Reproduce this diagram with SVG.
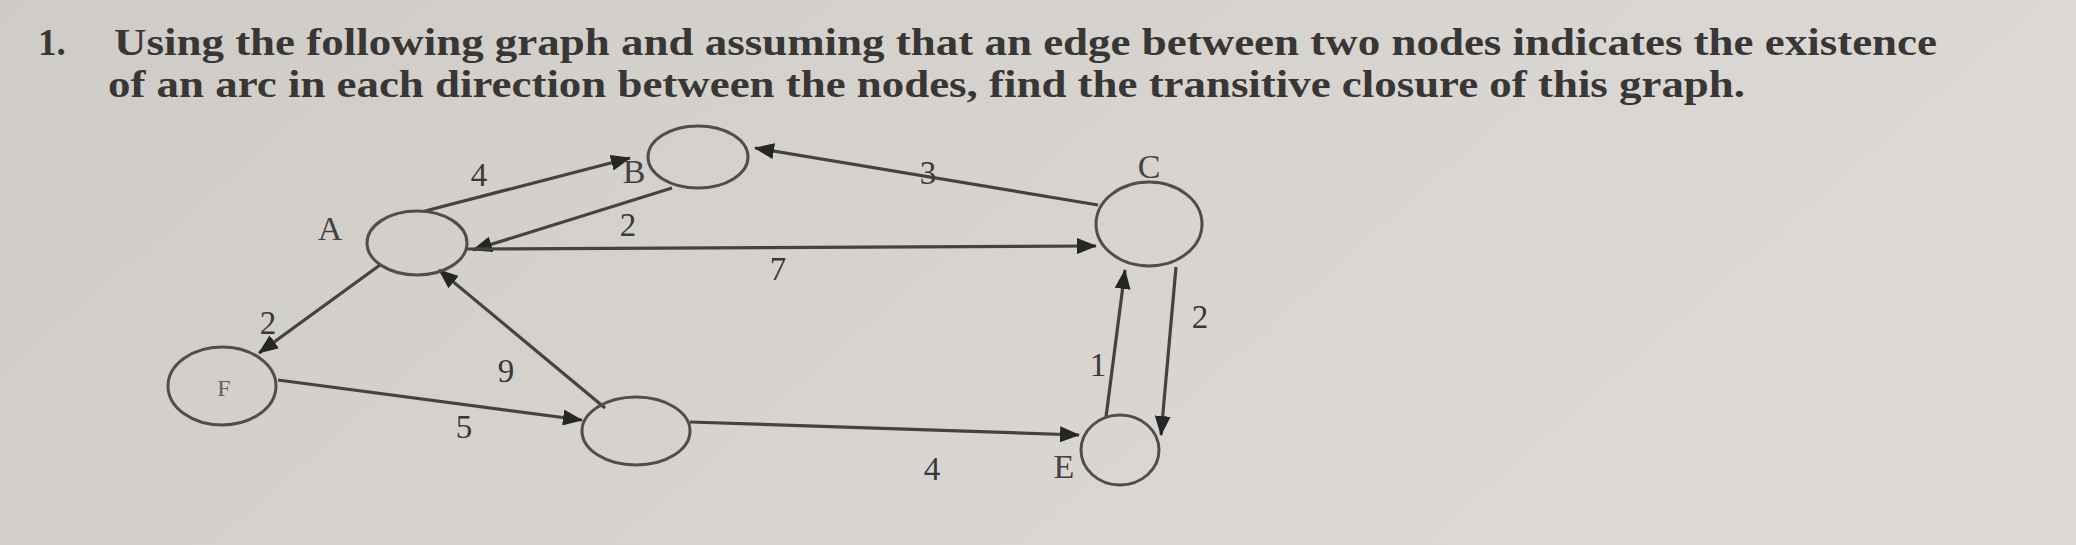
<svg xmlns="http://www.w3.org/2000/svg" width="2076" height="545" viewBox="0 0 2076 545">
<defs>
<linearGradient id="bg" x1="0" y1="0" x2="1" y2="0.3">
<stop offset="0" stop-color="#cfcbc6"/>
<stop offset="0.5" stop-color="#d6d3cf"/>
<stop offset="1" stop-color="#dcd9d6"/>
</linearGradient>
<marker id="ah" markerUnits="userSpaceOnUse" markerWidth="22" markerHeight="16" refX="19" refY="8" orient="auto">
<path d="M0,0 L20,8 L0,16 z" fill="#262626"/>
</marker>
<style>
.title{font-family:"Liberation Serif",serif;font-weight:bold;font-size:37px;fill:#383736}
.node{fill:none;stroke:#504e4c;stroke-width:3}
.edge{stroke:#444341;stroke-width:3.2;fill:none;marker-end:url(#ah)}
.lbl{font-family:"Liberation Serif",serif;font-size:33px;fill:#3a3938}
.nl{font-family:"Liberation Serif",serif;font-size:34px;fill:#444342}
</style>
</defs>
<rect x="0" y="0" width="2076" height="545" fill="url(#bg)"/>
<g id="question">
<text class="title" x="38" y="55">1.</text>
<text class="title" x="114" y="55" textLength="1823" lengthAdjust="spacingAndGlyphs">Using the following graph and assuming that an edge between two nodes indicates the existence</text>
<text class="title" x="108" y="97" textLength="1637" lengthAdjust="spacingAndGlyphs">of an arc in each direction between the nodes, find the transitive closure of this graph.</text>
</g>
<g id="connectors">
<line class="edge" x1="425" y1="211" x2="630" y2="158"/>
<line class="edge" x1="672" y1="188" x2="473" y2="250"/>
<line class="edge" x1="1098" y1="205" x2="755" y2="148"/>
<line class="edge" x1="466" y1="249" x2="1096" y2="246"/>
<line class="edge" x1="605" y1="408" x2="439" y2="270"/>
<line class="edge" x1="380" y1="265" x2="259" y2="353"/>
<line class="edge" x1="278" y1="380" x2="582" y2="420"/>
<line class="edge" x1="690" y1="422" x2="1079" y2="435"/>
<line class="edge" x1="1106" y1="417" x2="1125" y2="270"/>
<line class="edge" x1="1176" y1="267" x2="1161" y2="435"/>
<text class="lbl" x="479" y="186" text-anchor="middle">4</text>
<text class="lbl" x="628" y="236" text-anchor="middle">2</text>
<text class="lbl" x="928" y="184" text-anchor="middle">3</text>
<text class="lbl" x="778" y="280" text-anchor="middle">7</text>
<text class="lbl" x="506" y="382" text-anchor="middle">9</text>
<text class="lbl" x="268" y="334" text-anchor="middle">2</text>
<text class="lbl" x="464" y="438" text-anchor="middle">5</text>
<text class="lbl" x="932" y="480" text-anchor="middle">4</text>
<text class="lbl" x="1098" y="376" text-anchor="middle">1</text>
<text class="lbl" x="1200" y="328" text-anchor="middle">2</text>
</g>
<g id="node-A">
<ellipse class="node" cx="417" cy="243" rx="50" ry="32"/>
<text class="nl" x="330" y="240" text-anchor="middle">A</text>
</g>
<g id="node-B">
<ellipse class="node" cx="698" cy="157" rx="50" ry="31"/>
<text class="nl" x="634" y="183" text-anchor="middle">B</text>
</g>
<g id="node-C">
<ellipse class="node" cx="1149" cy="224" rx="53" ry="42"/>
<text class="nl" x="1149" y="178" text-anchor="middle">C</text>
</g>
<g id="node-D">
<ellipse class="node" cx="636" cy="431" rx="54" ry="34"/>
</g>
<g id="node-E">
<ellipse class="node" cx="1120" cy="450" rx="39" ry="35"/>
<text class="nl" x="1064" y="478" text-anchor="middle">E</text>
</g>
<g id="node-F">
<ellipse class="node" cx="222" cy="386" rx="54" ry="39"/>
<text class="nl" x="224" y="396" text-anchor="middle" style="font-size:24px;fill:#66625e">F</text>
</g>
</svg>
